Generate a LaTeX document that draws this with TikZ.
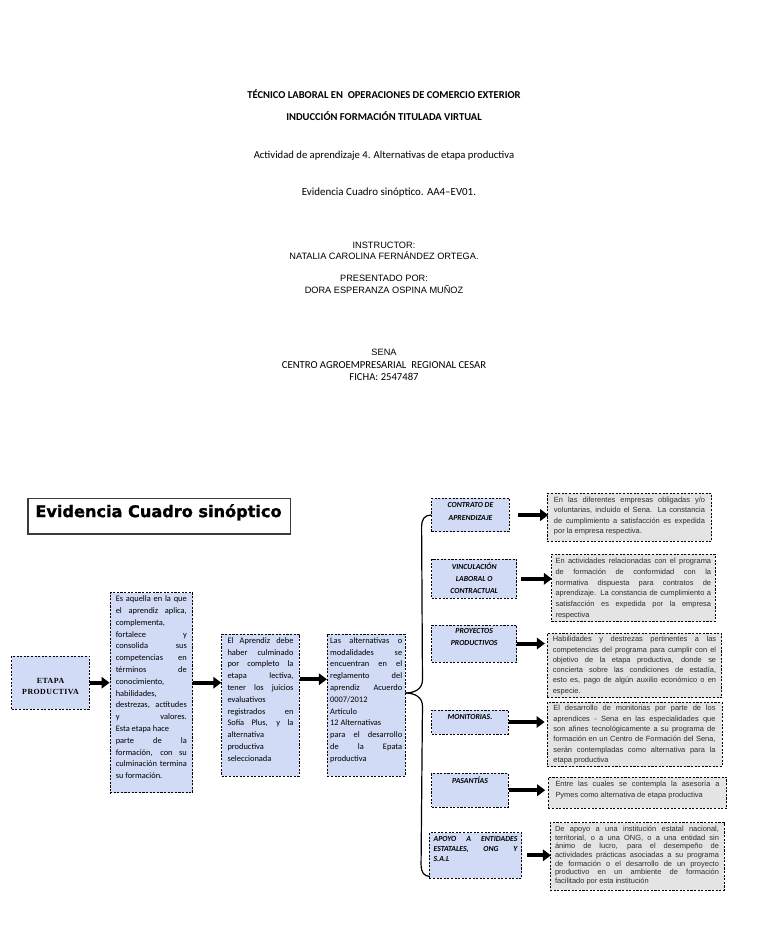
\documentclass[tikz,border=0pt]{standalone}
\usepackage{fontspec}
\setmainfont{Carlito}
\newfontfamily\arialf{Liberation Sans}
\newfontfamily\timesf{Liberation Serif}[LetterSpace=6]
\newfontfamily\heavyf{DejaVu Sans}[BoldFeatures={FakeBold=1.2}]
\usetikzlibrary{arrows.meta,calc}
\definecolor{bluefill}{RGB}{210,219,245}
\definecolor{grayfill}{RGB}{228,228,228}
\definecolor{graytext}{RGB}{45,45,45}
\definecolor{titleedge}{RGB}{58,58,58}
\newcommand\tb[4]{\parbox[c][#2][t]{#1}{\vspace*{#3}#4}}
\tikzset{
 dbox/.style={draw=black, line width=0.6pt, dash pattern=on 1.6pt off 1.1pt, inner ysep=0pt},
 bbox/.style={dbox, fill=bluefill},
 gbox/.style={dbox, fill=grayfill, text=graytext, font=\arialf\fontsize{5.6}{7.9}\selectfont},
 midtext/.style={font=\bfseries\itshape\fontsize{5.8}{9.2}\selectfont},
 bluetext/.style={font=\fontsize{6.3}{8.85}\selectfont},
 bigarrow/.style={line width=3pt, -{Triangle[length=6pt,width=8.5pt]}},
 toptext/.style={align=center, inner sep=0pt},
 bracepath/.style={line width=0.9pt},
}
\begin{document}
\begin{tikzpicture}[x=0.75pt,y=-0.75pt]
\fill[white] (0,0) rectangle (768,932);
\useasboundingbox (0,0) rectangle (768,932);

% ---------- cover texts ----------
\node[toptext, font=\bfseries\fontsize{7.9}{9}\selectfont] (t1) at (384,94) {TÉCNICO LABORAL EN\ \ OPERACIONES DE COMERCIO EXTERIOR};
\node[toptext, font=\bfseries\fontsize{7.9}{9}\selectfont] (t2) at (384,116) {INDUCCIÓN FORMACIÓN TITULADA VIRTUAL};
\node[toptext, font=\fontsize{8}{9}\selectfont] (t3) at (384,156) {Actividad de aprendizaje 4. Alternativas de etapa productiva};
\node[toptext, font=\fontsize{8.2}{9}\selectfont] (t4) at (389,193) {Evidencia Cuadro sinóptico. AA4–EV01.};
\node[toptext, font=\arialf\fontsize{6.9}{8}\selectfont] (t5) at (384,245) {INSTRUCTOR:};
\node[toptext, font=\arialf\fontsize{6.9}{8}\selectfont] (t6) at (384,255.5) {NATALIA CAROLINA FERNÁNDEZ ORTEGA.};
\node[toptext, font=\arialf\fontsize{6.9}{8}\selectfont] (t7) at (384,278.5) {PRESENTADO POR:};
\node[toptext, font=\arialf\fontsize{6.9}{8}\selectfont] (t8) at (384,289.5) {DORA ESPERANZA OSPINA MUÑOZ};
\node[toptext, font=\arialf\fontsize{6.9}{8}\selectfont] (t9) at (384,352.5) {SENA};
\node[toptext, font=\fontsize{8}{9}\selectfont] (t10) at (384,365) {CENTRO AGROEMPRESARIAL\ \ REGIONAL CESAR};
\node[toptext, font=\fontsize{8}{9}\selectfont] (t11) at (384,377) {FICHA: 2547487};

% ---------- title box ----------
\node[draw=titleedge, line width=0.9pt, inner xsep=5.6pt, inner ysep=0pt,
      font=\heavyf\bfseries\fontsize{12.1}{13}\selectfont] (title) at (159.4,516.2)
  {\tb{186pt}{26.8pt}{4.4pt}{Evidencia Cuadro sinóptico}};

% ---------- left chain ----------
\node[bbox, inner xsep=4pt, font=\timesf\bfseries\fontsize{5.9}{8.25}\selectfont] (etapa) at (50.5,682.7)
  {\tb{50.2pt}{40pt}{17pt}{\centering ETAPA\\PRODUCTIVA}};

\node[bbox, inner xsep=4.35pt, bluetext] (b2) at (151.3,692.7)
  {\tb{53.3pt}{150pt}{2.4pt}{Es aquella en la que\linebreak
   el aprendiz aplica,\linebreak complementa,\linebreak fortalece y\linebreak
   consolida sus\linebreak competencias en\linebreak términos de\linebreak
   conocimiento,\linebreak habilidades,\linebreak destrezas, actitudes\linebreak
   y valores.\linebreak Esta etapa hace\newline parte de la\linebreak
   formación, con su\linebreak culminación termina\linebreak su formación.}};

\node[bbox, inner xsep=4.35pt, bluetext] (b3) at (260.5,705)
  {\tb{49.5pt}{106.5pt}{2.6pt}{El Aprendiz debe\linebreak haber culminado\linebreak
   por completo la\linebreak etapa lectiva,\linebreak tener los juicios\linebreak
   evaluativos\linebreak registrados en\linebreak Sofía Plus, y la\linebreak
   alternativa\linebreak productiva\linebreak seleccionada}};

\node[bbox, inner xsep=2.15pt, bluetext] (b4) at (366.2,705)
  {\tb{54pt}{106.5pt}{2.6pt}{Las alternativas o\linebreak modalidades se\linebreak
   encuentran en el\linebreak reglamento del\linebreak aprendiz Acuerdo\linebreak
   0007/2012\linebreak Artículo\linebreak 12 Alternativas\newline
   para el desarrollo\linebreak de la Epata\linebreak productiva}};

% ---------- middle column ----------
\node[bbox, inner xsep=3pt, midtext] (m1) at (470.5,515)
  {\tb{52.2pt}{25pt}{3.4pt}{\centering CONTRATO DE\\APRENDIZAJE}};
\node[bbox, inner xsep=3pt, midtext] (m2) at (474.2,578.8)
  {\tb{57.75pt}{29.25pt}{2.6pt}{\centering VINCULACIÓN\\LABORAL O\\CONTRACTUAL}};
\node[bbox, inner xsep=3pt, midtext] (m3) at (474.2,643.5)
  {\tb{57.75pt}{27.75pt}{2.6pt}{\centering PROYECTOS\\PRODUCTIVOS}};
\node[bbox, inner xsep=3pt, midtext] (m4) at (470,722)
  {\tb{51.5pt}{18pt}{3pt}{\centering MONITORIAS.}};
\node[bbox, inner xsep=3pt, midtext] (m5) at (470,790.2)
  {\tb{51.5pt}{25.3pt}{2.6pt}{\centering PASANTÍAS}};
\node[bbox, inner xsep=3.2pt, midtext, font=\bfseries\itshape\fontsize{5.8}{7.8}\selectfont] (m6) at (475.5,855.3)
  {\tb{62.9pt}{34pt}{2.6pt}{APOYO A ENTIDADES\linebreak ESTATALES, ONG Y\linebreak S.A.L}};

% ---------- right column ----------
\node[gbox, inner xsep=5pt] (r1) at (629.5,517.2)
  {\tb{113.3pt}{35.8pt}{2.6pt}{En las diferentes empresas obligadas y/o\linebreak
   voluntarias, incluido el Sena. La constancia\linebreak
   de cumplimiento a satisfacción es expedida\linebreak
   por la empresa respectiva.}};
\node[gbox, inner xsep=2.9pt, font=\arialf\fontsize{5.6}{8.1}\selectfont] (r2) at (633.35,588)
  {\tb{116.7pt}{50.5pt}{2.8pt}{En actividades relacionadas con el programa\linebreak
   de formación de conformidad con la\linebreak
   normativa dispuesta para contratos de\linebreak
   aprendizaje. La constancia de cumplimiento a\linebreak
   satisfacción es expedida por la empresa\linebreak
   respectiva}};
\node[gbox, inner xsep=4.15pt, font=\arialf\fontsize{5.6}{7.7}\selectfont] (r3) at (634.5,665.5)
  {\tb{122.5pt}{48.3pt}{2.4pt}{Habilidades y destrezas pertinentes a las\linebreak
   competencias del programa para cumplir con el\linebreak
   objetivo de la etapa productiva, donde se\linebreak
   concierta sobre las condiciones de estadía,\linebreak
   esto es, pago de algún auxilio económico o en\linebreak
   especie.}};
\node[gbox, inner xsep=4.8pt, font=\arialf\fontsize{5.6}{7.75}\selectfont] (r4) at (634.5,734.5)
  {\tb{121.6pt}{48.3pt}{2.4pt}{El desarrollo de monitorias por parte de los\linebreak
   aprendices - Sena en las especialidades que\linebreak
   son afines tecnológicamente a su programa de\linebreak
   formación en un Centro de Formación del Sena,\linebreak
   serán contempladas como alternativa para la\linebreak
   etapa productiva}};
\node[gbox, inner xsep=5.4pt, font=\arialf\fontsize{5.6}{8.2}\selectfont] (r5) at (637.5,792.8)
  {\tb{123pt}{23.25pt}{2.6pt}{Entre las cuales se contempla la asesoría a\linebreak
   Pymes como alternativa de etapa productiva}};
\node[gbox, inner xsep=3.75pt, font=\arialf\fontsize{5.6}{6.5}\selectfont] (r6) at (637,856.35)
  {\tb{123pt}{50.5pt}{2.4pt}{De apoyo a una institución estatal nacional,\linebreak
   territorial, o a una ONG, o a una entidad sin\linebreak
   ánimo de lucro, para el desempeño de\linebreak
   actividades prácticas asociadas a su programa\linebreak
   de formación o el desarrollo de un proyecto\linebreak
   productivo en un ambiente de formación\linebreak
   facilitado por esta institución}};

% ---------- arrows ----------
\draw[bigarrow] (etapa.east) -- (etapa.east -| b2.west);
\draw[bigarrow] (b2.east |- etapa.east) -- (b3.west |- etapa.east);
\draw[bigarrow] ([yshift=19.3pt]b3.east) -- ([yshift=19.3pt]b4.west);

\draw[bigarrow, shorten <=6.5pt, shorten >=-1pt] (m1.east) -- (m1.east -| r1.west);
\draw[bigarrow, shorten <=3pt, shorten >=-0.5pt] (m2.east) -- (m2.east -| r2.west);
\draw[bigarrow, shorten >=1.5pt] (m3.east) -- (m3.east -| r3.west);
\draw[bigarrow, shorten >=1.5pt] (m4.east) -- (m4.east -| r4.west);
\draw[bigarrow, shorten <=0.5pt, shorten >=2pt] (m5.east) -- (m5.east -| r5.west);
\draw[bigarrow, shorten <=3.7pt, shorten >=-1pt] (m6.east) -- (m6.east -| r6.west);

% ---------- brace ----------
\coordinate (tip) at ([yshift=9pt]b4.east);
\coordinate (btop) at (m1.west);
\coordinate (bbot) at ([yshift=1.5pt,xshift=0.5pt]m6.south west);
\draw[bracepath] (tip) .. controls ($(tip)+(9,0)$) and ($(tip)+(17,-4)$) .. ($(tip)+(17,-13)$)
   -- ($(btop)+(-9.7,12)$) .. controls ($(btop)+(-9.7,4)$) and ($(btop)+(-6.7,0)$) .. (btop);
\draw[bracepath] (tip) .. controls ($(tip)+(9,0)$) and ($(tip)+(17,4)$) .. ($(tip)+(17,13)$)
   -- ($(bbot)+(-8.5,-12)$) .. controls ($(bbot)+(-8.5,-4)$) and ($(bbot)+(-5.5,0)$) .. (bbot);
\end{tikzpicture}
\end{document}
